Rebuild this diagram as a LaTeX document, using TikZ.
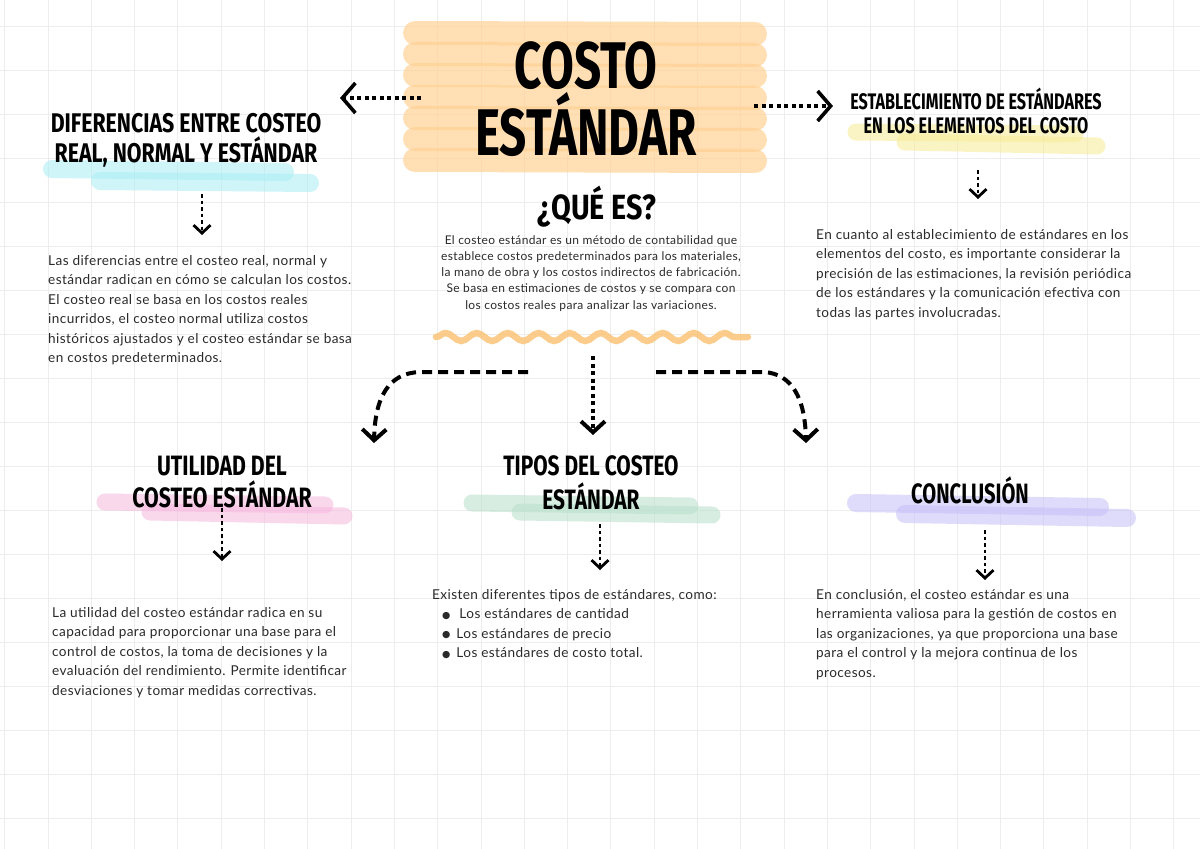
\documentclass[tikz,border=0pt]{standalone}
\usepackage{fontspec}
\usepackage{graphicx}
\setmainfont{Lato}[LetterSpace=3]
\newfontfamily\hdfont{Fira Sans}
\newfontfamily\symfont{DejaVu Sans}
\usetikzlibrary{arrows.meta,decorations.pathmorphing}
\definecolor{gridc}{HTML}{EDEDED}
\definecolor{txt}{HTML}{2A2A2A}
\definecolor{orangeh}{HTML}{FFD294}
\definecolor{cyanh}{HTML}{A8EEF5}
\definecolor{yellowh}{HTML}{F7EC95}
\definecolor{pinkh}{HTML}{F7B8DE}
\definecolor{greenh}{HTML}{B9E0CB}
\definecolor{purpleh}{HTML}{C6BFF9}
\definecolor{wavyc}{HTML}{FBC06E}
\newcommand\sq[2][0.72]{\scalebox{#1}[1]{#2}}
\newcommand\bul{\raisebox{0.3pt}{\symfont\fontsize{9.5}{9.5}\selectfont ●}}
\begin{document}
\begin{tikzpicture}[x=1pt,y=-1pt,
  gridline/.style={draw=gridc,line width=1pt},
  hl/.style={line width=#1, line cap=round, opacity=0.55},
  hdnode/.style={inner sep=0pt, align=center, text=black},
  body/.style={inner sep=0pt, align=left, text=txt, font=\fontsize{13.6}{19.5}\selectfont},
  bigdot/.style={line width=3.6pt, dash pattern=on 4pt off 3.5pt,
     -{Straight Barb[length=13pt,width=30pt,line width=3.6pt]}},
  bigdash/.style={line width=4pt, dash pattern=on 10pt off 6pt,
     -{Straight Barb[length=11pt,width=24pt,line width=4pt]}},
  middot/.style={line width=3.6pt, dash pattern=on 4pt off 3.5pt,
     -{Straight Barb[length=11pt,width=24pt,line width=4pt]}},
  smalldot/.style={line width=2.8pt, dash pattern=on 3.5pt off 3pt,
     -{Straight Barb[length=8pt,width=17pt,line width=2.8pt]}}]
\useasboundingbox (0,0) rectangle (1200,849);
\fill[white] (0,0) rectangle (1200,849);
% grid
\foreach \i in {0,...,27} \draw[gridline] ({4.7+43.3*\i},0) -- ++(0,849);
\foreach \j in {0,...,18} \draw[gridline] (0,{26+44*\j}) -- ++(1200,0);

% title highlight stripes
\foreach \yy in {33,54,75,97,118,139,160}
  \draw[hl=24pt, draw=orangeh, opacity=0.7] (415,\yy) -- (755,\yy+1);

% other highlights
\draw[hl=18pt, draw=cyanh] (52,169) -- (285,172);
\draw[hl=18pt, draw=cyanh] (100,181) -- (310,183);
\draw[hl=17pt, draw=yellowh] (856,132) -- (1075,134);
\draw[hl=17pt, draw=yellowh] (905,142) -- (1097,146);
\draw[hl=17pt, draw=pinkh] (105,502) -- (325,505);
\draw[hl=17pt, draw=pinkh] (150,512) -- (344,516);
\draw[hl=17pt, draw=greenh] (472,503) -- (690,506);
\draw[hl=17pt, draw=greenh] (520,512) -- (712,515);
\draw[hl=18pt, draw=purpleh] (856,503) -- (1100,507);
\draw[hl=18pt, draw=purpleh] (905,514) -- (1127,518);
% wavy line
\draw[wavyc, line width=6.5pt, line cap=round, opacity=0.8,
  decorate, decoration={snake, segment length=31pt, amplitude=4pt}]
  (436,337) -- (748,337);

% headings
\node[hdnode, font=\hdfont\bfseries\fontsize{66}{67}\selectfont, anchor=north]
  (title) at (586,41) {\sq{COSTO}\\\sq{ESTÁNDAR}};
\node[hdnode, font=\hdfont\bfseries\fontsize{27}{30}\selectfont, anchor=north]
  (dif) at (186,113) {\sq[0.79]{DIFERENCIAS ENTRE COSTEO}\\\sq[0.79]{REAL, NORMAL Y ESTÁNDAR}};
\node[hdnode, font=\hdfont\bfseries\fontsize{22.5}{23.5}\selectfont, anchor=north]
  (est) at (976,88) {\sq{ESTABLECIMIENTO DE ESTÁNDARES}\\\sq{EN LOS ELEMENTOS DEL COSTO}};
\node[hdnode, font=\hdfont\bfseries\fontsize{35}{35}\selectfont, anchor=base]
  (que) at (597,219) {\sq[0.82]{¿QUÉ ES?}};
\node[hdnode, font=\hdfont\bfseries\fontsize{28}{32}\selectfont, anchor=north]
  (util) at (222,456) {\sq[0.76]{UTILIDAD DEL}\\\sq[0.76]{COSTEO ESTÁNDAR}};
\node[hdnode, font=\hdfont\bfseries\fontsize{28}{34}\selectfont, anchor=north]
  (tipos) at (591,455) {\sq[0.745]{TIPOS DEL COSTEO}\\\sq[0.745]{ESTÁNDAR}};
\node[hdnode, font=\hdfont\bfseries\fontsize{28}{32}\selectfont, anchor=base]
  (concl) at (970,503) {\sq{CONCLUSIÓN}};

% body texts
\node[body, align=center, font=\fontsize{12}{16.3}\selectfont, anchor=north]
  (quetxt) at (591,235) {El costeo estándar es un método de contabilidad que\\
  establece costos predeterminados para los materiales,\\
  la mano de obra y los costos indirectos de fabricación.\\
  Se basa en estimaciones de costos y se compara con\\
  los costos reales para analizar las variaciones.};
\node[body, anchor=north west] (diftxt) at (48,255) {Las diferencias entre el costeo real, normal y\\
  estándar radican en cómo se calculan los costos.\\
  El costeo real se basa en los costos reales\\
  incurridos, el costeo normal utiliza costos\\
  históricos ajustados y el costeo estándar se basa\\
  en costos predeterminados.};
\node[body, anchor=north west] (esttxt) at (816,229) {En cuanto al establecimiento de estándares en los\\
  elementos del costo, es importante considerar la\\
  precisión de las estimaciones, la revisión periódica\\
  de los estándares y la comunicación efectiva con\\
  todas las partes involucradas.};
\node[body, anchor=north west] (utiltxt) at (52,607) {La utilidad del costeo estándar radica en su\\
  capacidad para proporcionar una base para el\\
  control de costos, la toma de decisiones y la\\
  evaluación del rendimiento. Permite identificar\\
  desviaciones y tomar medidas correctivas.};
\node[body, anchor=north west] (tipostxt) at (432,589) {Existen diferentes tipos de estándares, como:\\
  \hspace{10pt}\bul\hspace{9pt}Los estándares de cantidad\\
  \hspace{10pt}\bul\hspace{6pt}Los estándares de precio\\
  \hspace{10pt}\bul\hspace{6pt}Los estándares de costo total.};
\node[body, anchor=north west] (concltxt) at (816,589) {En conclusión, el costeo estándar es una\\
  herramienta valiosa para la gestión de costos en\\
  las organizaciones, ya que proporciona una base\\
  para el control y la mejora continua de los\\
  procesos.};

% connector end points
\coordinate (tl) at (421,98);
\coordinate (tlend) at (340,98);
\coordinate (tr) at (754,106);
\coordinate (trend) at (833,106);
\coordinate (ml) at (528,372);
\coordinate (mlend) at (374,443);
\coordinate (mm) at (593,356);
\coordinate (mmend) at (593,435);
\coordinate (mr) at (656,372);
\coordinate (mrend) at (806,443);
\coordinate (d1) at (202,194);
\coordinate (d1e) at (202,235);
\coordinate (d2) at (978,170);
\coordinate (d2e) at (978,199);
\coordinate (d3) at (222,508);
\coordinate (d3e) at (222,561);
\coordinate (d4) at (600,524);
\coordinate (d4e) at (600,570);
\coordinate (d5) at (985,530);
\coordinate (d5e) at (985,580);

% connectors
\draw[bigdot] (tl) -- (tlend);
\draw[bigdot] (tr) -- (trend);
\draw[bigdash] (ml) -- (420,372) .. controls (388,373) and (375,398) .. (mlend);
\draw[middot] (mm) -- (mmend);
\draw[bigdash] (mr) -- (764,372) .. controls (792,374) and (805,398) .. (mrend);
\draw[smalldot] (d1) -- (d1e);
\draw[smalldot] (d2) -- (d2e);
\draw[smalldot] (d3) -- (d3e);
\draw[smalldot] (d4) -- (d4e);
\draw[smalldot] (d5) -- (d5e);
\end{tikzpicture}
\end{document}
